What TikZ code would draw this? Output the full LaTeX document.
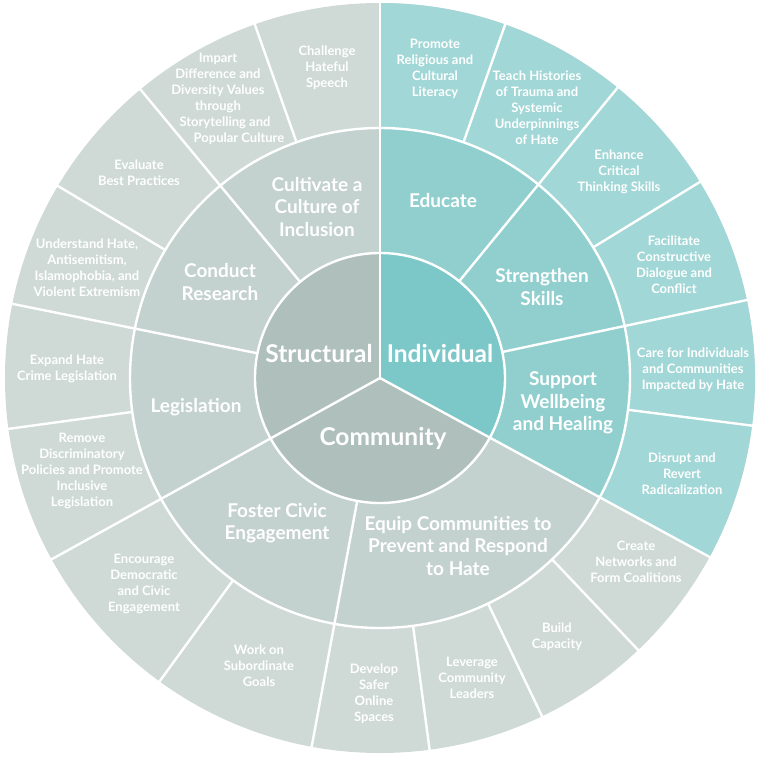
\documentclass[tikz,border=0pt]{standalone}
\usepackage{fontspec}
\setmainfont{Lato}
\usepackage{tikz}
\definecolor{tealin}{HTML}{7CC8C9}
\definecolor{tealmid}{HTML}{91CFCF}
\definecolor{tealout}{HTML}{A1D7D6}
\definecolor{grayin}{HTML}{AFBFBB}
\definecolor{graymid}{HTML}{C4D2CF}
\definecolor{grayout}{HTML}{CFDAD7}

\begin{document}
\begin{tikzpicture}[x=1pt,y=1pt,
    sep/.style={draw=white,line width=2.4pt},
    corelbl/.style={text=white,font=\fontsize{24.5}{28}\selectfont\bfseries,align=center,inner sep=0pt},
    ringlbl/.style={text=white,font=\fontsize{19}{22.5}\selectfont\bfseries,align=center,inner sep=0pt},
    leaflbl/.style={text=white,font=\fontsize{13}{16}\selectfont\bfseries,align=center,inner sep=0pt}]
        \useasboundingbox (-380,-380) rectangle (388,378);

        % rings
        \fill[grayout] (0,0) circle[radius=375];
        \fill[tealout] (0,0) -- (-28.5:375) arc[start angle=-28.5,end angle=90,radius=375] -- cycle;
        \fill[graymid] (0,0) circle[radius=250];
        \fill[tealmid] (0,0) -- (-28.5:250) arc[start angle=-28.5,end angle=90,radius=250] -- cycle;
        \fill[grayin] (0,0) circle[radius=125];
        \fill[tealin] (0,0) -- (-28.5:125) arc[start angle=-28.5,end angle=90,radius=125] -- cycle;
        \draw[sep] (0,0) circle[radius=125];
        \draw[sep] (0,0) circle[radius=250];

        % dividers
        \draw[sep] (0,0) -- (90:376);
        \draw[sep] (0,0) -- (-28.5:376);
        \draw[sep] (0,0) -- (208.9:376);
        \draw[sep] (50.7:125) -- (50.7:376);
        \draw[sep] (12:125) -- (12:376);
        \draw[sep] (-100.5:125) -- (-100.5:376);
        \draw[sep] (168.6:125) -- (168.6:376);
        \draw[sep] (129.7:125) -- (129.7:376);
        \draw[sep] (70.5:250) -- (70.5:376);
        \draw[sep] (31.5:250) -- (31.5:376);
        \draw[sep] (-7.3:250) -- (-7.3:376);
        \draw[sep] (-46.5:250) -- (-46.5:376);
        \draw[sep] (-64.4:250) -- (-64.4:376);
        \draw[sep] (-82.4:250) -- (-82.4:376);
        \draw[sep] (-126:250) -- (-126:376);
        \draw[sep] (187.8:250) -- (187.8:376);
        \draw[sep] (149.2:250) -- (149.2:376);
        \draw[sep] (109.5:250) -- (109.5:376);

        % core
        \node[corelbl] (structural) at (-61,25) {Structural};
        \node[corelbl] (individual) at (60,25) {Individual};
        \node[corelbl] (community) at (3,-60) {Community};

        % middle ring
        \node[ringlbl] (cultivate) at (-63,171) {Cultivate a\\Culture of\\Inclusion};
        \node[ringlbl] (research) at (-160,96) {Conduct\\Research};
        \node[ringlbl] (legislation) at (-184,-29) {Legislation};
        \node[ringlbl] (civic) at (-103,-145) {Foster Civic\\Engagement};
        \node[ringlbl] (equip) at (78,-168) {Equip Communities to\\Prevent and Respond\\to Hate};
        \node[ringlbl] (wellbeing) at (183,-25) {Support\\Wellbeing\\and Healing};
        \node[ringlbl] (skills) at (162,91) {Strengthen\\Skills};
        \node[ringlbl] (educate) at (63,177) {Educate};

        % outer ring
        \node[leaflbl] (speech) at (-53,310) {Challenge\\Hateful\\Speech};
        \node[leaflbl] (impart) at (-162,279) {Impart\\Difference and\\Diversity Values\\through\\\hspace*{14pt}Storytelling and\\\hspace*{42pt}Popular Culture};
        \node[leaflbl] (evaluate) at (-241,205) {Evaluate\\Best Practices};
        \node[leaflbl] (understand) at (-293,110) {Understand Hate,\\Antisemitism,\\Islamophobia, and\\Violent Extremism};
        \node[leaflbl] (expand) at (-313,9) {Expand Hate\\Crime Legislation};
        \node[leaflbl] (remove) at (-298,-93) {Remove\\Discriminatory\\Policies and Promote\\Inclusive\\Legislation};
        \node[leaflbl] (encourage) at (-236,-206) {Encourage\\Democratic\\and Civic\\Engagement};
        \node[leaflbl] (goals) at (-121,-288) {Work on\\Subordinate\\Goals};
        \node[leaflbl] (online) at (-6,-316) {Develop\\Safer\\Online\\Spaces};
        \node[leaflbl] (leaders) at (92,-300) {Leverage\\Community\\Leaders};
        \node[leaflbl] (capacity) at (177,-259) {Build\\Capacity};
        \node[leaflbl] (networks) at (256,-184) {Create\\Networks and\\Form Coalitions};
        \node[leaflbl] (disrupt) at (302,-96) {Disrupt and\\Revert\\Radicalization};
        \node[leaflbl] (care) at (313,8) {Care for Individuals\\and Communities\\Impacted by Hate};
        \node[leaflbl] (dialogue) at (294,113) {Facilitate\\Constructive\\Dialogue and\\Conflict};
        \node[leaflbl] (thinking) at (239,206) {Enhance\\Critical\\Thinking Skills};
        \node[leaflbl] (histories) at (157,270) {Teach Histories\\of Trauma and\\Systemic\\Underpinnings\\of Hate};
        \node[leaflbl] (literacy) at (55,309) {Promote\\Religious and\\Cultural\\Literacy};
    \end{tikzpicture}
\end{document}
